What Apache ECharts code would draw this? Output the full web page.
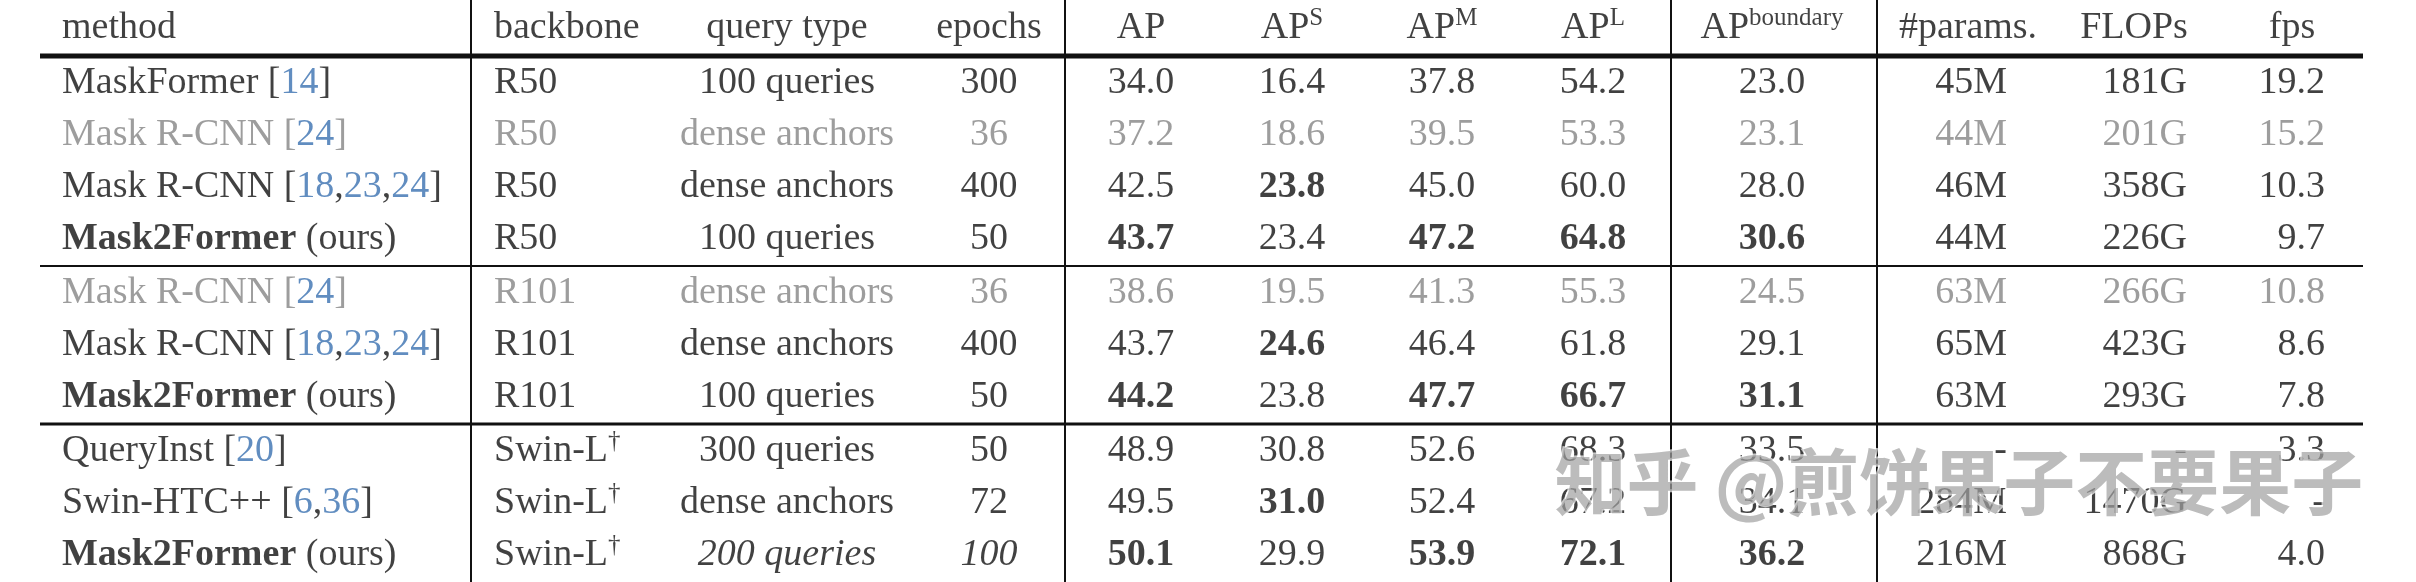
<!DOCTYPE html>
<html><head><meta charset="utf-8">
<script src="https://cdn.jsdelivr.net/npm/echarts@6/dist/echarts.min.js"></script>
<style>html,body{margin:0;padding:0;background:#fff}#c{width:2416px;height:582px}</style>
</head><body><div id="c"></div>
<script>
// ---- data ----
const headers = ["method","backbone","query type","epochs","AP","AP{sup|S}","AP{sup|M}","AP{sup|L}","AP{sup|boundary}","#params.","FLOPs","fps"];
const methods = ["MaskFormer [{c|14}]","Mask R-CNN [{c|24}]","Mask R-CNN [{c|18},{c|23},{c|24}]","{b|Mask2Former} (ours)","Mask R-CNN [{c|24}]","Mask R-CNN [{c|18},{c|23},{c|24}]","{b|Mask2Former} (ours)","QueryInst [{c|20}]","Swin-HTC++ [{c|6},{c|36}]","{b|Mask2Former} (ours)"];
const backbones = ["R50","R50","R50","R50","R101","R101","R101","Swin-L{sup|†}","Swin-L{sup|†}","Swin-L{sup|†}"];
const queryTypes = ["100 queries","dense anchors","dense anchors","100 queries","dense anchors","dense anchors","100 queries","300 queries","dense anchors","{i|200 queries}"];
const epochs = ["300","36","400","50","36","400","50","50","72","{i|100}"];
const AP = ["34.0","37.2","42.5","{b|43.7}","38.6","43.7","{b|44.2}","48.9","49.5","{b|50.1}"];
const APs = ["16.4","18.6","{b|23.8}","23.4","19.5","{b|24.6}","23.8","30.8","{b|31.0}","29.9"];
const APm = ["37.8","39.5","45.0","{b|47.2}","41.3","46.4","{b|47.7}","52.6","52.4","{b|53.9}"];
const APl = ["54.2","53.3","60.0","{b|64.8}","55.3","61.8","{b|66.7}","68.3","67.2","{b|72.1}"];
const APb = ["23.0","23.1","28.0","{b|30.6}","24.5","29.1","{b|31.1}","33.5","34.1","{b|36.2}"];
const params = ["45M","44M","46M","44M","63M","65M","63M","-","284M","216M"];
const flops = ["181G","201G","358G","226G","266G","423G","293G","-","1470G","868G"];
const fps = ["19.2","15.2","10.3","9.7","10.8","8.6","7.8","3.3","-","4.0"];
const grayRows = [1,4];
const watermark = "知乎 @煎饼果子不要果子";

// ---- layout ----
const colX = [62,494,787,989,1141,1292,1442,1593,1772,2007,2187,2325];
const colAlign = ["left","left","center","center","center","center","center","center","center","right","right","right"];
const headerAlign = ["left","left","center","center","center","center","center","center","center","center","center","center"];
const headerX = [62,494,787,989,1141,1292,1442,1593,1772,1968,2134,2292];
const headerY = 28;
const rowY = [83,135,187,239,293,345,397,451,503,555];
const hLines = [[56,5],[266,2],[424,3]];
const vLines = [471,1065,1671,1877];

const columns = [methods,backbones,queryTypes,epochs,AP,APs,APm,APl,APb,params,flops,fps];
const FONT = "'Liberation Serif','DejaVu Serif',serif";
const rich = {
  b:{fontWeight:'bold',fontSize:38,fontFamily:FONT},
  i:{fontStyle:'italic',fontSize:38,fontFamily:FONT},
  c:{color:'#3a70b0',fontSize:38,fontFamily:FONT},
  sup:{fontSize:25,fontFamily:FONT,padding:[0,0,20,0],verticalAlign:'bottom'}
};
function lbl(align,color){
  return {show:true,position:[0,0],align:align,verticalAlign:'middle',formatter:p=>p.value[2],
    color:color,fontSize:38,fontFamily:FONT,rich:rich};
}
const series = [];
headers.forEach((h,k)=>{
  series.push({type:'scatter',symbolSize:0,silent:true,data:[[headerX[k],headerY,h]],label:lbl(headerAlign[k],'#111')});
});
columns.forEach((col,k)=>{
  series.push({type:'scatter',symbolSize:0,silent:true,
    data:col.map((t,r)=>({value:[colX[k],rowY[r],t],label:{color:grayRows.includes(r)?'#858585':'#111'}})),
    label:lbl(colAlign[k],'#111')});
});
hLines.forEach(([y,w])=>series.push({type:'line',symbol:'none',silent:true,data:[[40,y],[2363,y]],lineStyle:{color:'#111',width:w}}));
vLines.forEach(x=>series.push({type:'line',symbol:'none',silent:true,data:[[x,0],[x,582]],lineStyle:{color:'#111',width:2}}));

const chart = echarts.init(document.getElementById('c'),null,{renderer:'canvas'});
chart.setOption({
  animation:false,
  grid:{left:0,right:0,top:0,bottom:0},
  xAxis:{type:'value',min:0,max:2416,show:false},
  yAxis:{type:'value',min:0,max:582,inverse:true,show:false},
  series:series,
  graphic:[{type:'text',left:1553,top:444,z:100,style:{text:watermark,fontSize:72,fontWeight:'bold',
    fontFamily:"'Noto Sans CJK SC',sans-serif",fill:'rgba(160,160,160,0.7)',stroke:'rgba(255,255,255,0.7)',lineWidth:3}}]
});
</script></body></html>
